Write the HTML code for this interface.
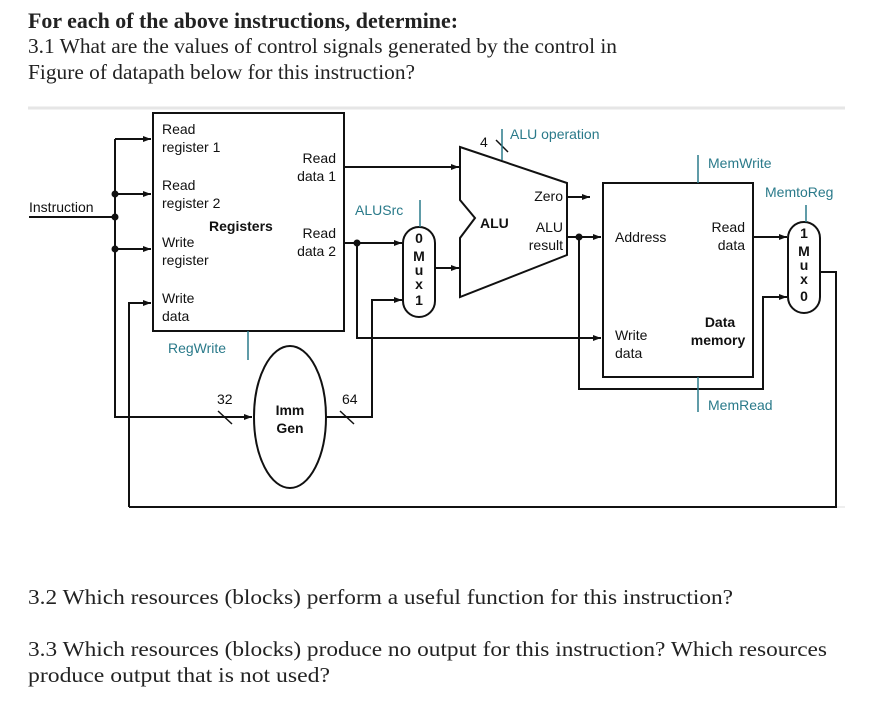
<!DOCTYPE html>
<html><head><meta charset="utf-8"><style>
body{margin:0;background:#fff;}
svg{display:block;}
.s{font-family:"Liberation Serif",serif;fill:#222;}
.d{font-family:"Liberation Sans",sans-serif;font-size:14px;fill:#111;}
.c{font-family:"Liberation Sans",sans-serif;font-size:14px;fill:#2a7a8a;}
</style></head><body>
<svg width="884" height="714" viewBox="0 0 884 714" xmlns="http://www.w3.org/2000/svg">
<defs><marker id="a" markerWidth="8" markerHeight="6" refX="8" refY="3" orient="auto" markerUnits="userSpaceOnUse"><path d="M0,0 L8,3 L0,6 z" fill="#111"/></marker></defs>
<text class="s" x="28" y="28" font-size="22" font-weight="bold" textLength="430" lengthAdjust="spacingAndGlyphs">For each of the above instructions, determine:</text>
<text class="s" x="28" y="53" font-size="21" textLength="589" lengthAdjust="spacingAndGlyphs">3.1 What are the values of control signals generated by the control in</text>
<text class="s" x="28" y="79" font-size="21" textLength="387" lengthAdjust="spacingAndGlyphs">Figure of datapath below for this instruction?</text>
<line x1="28" y1="108" x2="845" y2="108" stroke="#e6e6e6" stroke-width="3"/>
<line x1="130" y1="507" x2="845" y2="507" stroke="#eee" stroke-width="2"/>
<g stroke="#111" stroke-width="2" fill="none">
<rect x="153" y="113" width="191" height="218" fill="#fff"/>
<rect x="603" y="183" width="150" height="194" fill="#fff"/>
<line x1="29" y1="217" x2="115" y2="217"/>
<line x1="115" y1="139" x2="115" y2="418"/>
<line x1="115" y1="139" x2="151" y2="139" marker-end="url(#a)"/>
<line x1="115" y1="194" x2="151" y2="194" marker-end="url(#a)"/>
<line x1="115" y1="249" x2="151" y2="249" marker-end="url(#a)"/>
<line x1="115" y1="417" x2="252" y2="417" marker-end="url(#a)"/>
<polyline points="129,507 129,303 151,303" marker-end="url(#a)"/>
<line x1="344" y1="167" x2="459" y2="167" marker-end="url(#a)"/>
<line x1="344" y1="243" x2="402" y2="243" marker-end="url(#a)"/>
<polyline points="357,243 357,338 601,338" marker-end="url(#a)"/>
<line x1="435" y1="268" x2="459" y2="268" marker-end="url(#a)"/>
<polyline points="326,417 372,417 372,300 402,300" marker-end="url(#a)"/>
<path d="M460,147 L567,183 L567,255 L460,297 L460,238 L475,218 L460,200 Z" fill="#fff"/>
<line x1="567" y1="197" x2="590" y2="197" marker-end="url(#a)"/>
<line x1="567" y1="237" x2="601" y2="237" marker-end="url(#a)"/>
<polyline points="579,237 579,389 763,389 763,297 787,297" marker-end="url(#a)"/>
<line x1="753" y1="237" x2="787" y2="237" marker-end="url(#a)"/>
<polyline points="820,272 836,272 836,507 129,507"/>
<rect x="403" y="227" width="32" height="90" rx="16" fill="#fff"/>
<rect x="788" y="222" width="32" height="91" rx="16" fill="#fff"/>
<ellipse cx="290" cy="417" rx="36" ry="71" fill="#fff"/>
<line x1="218" y1="411" x2="232" y2="424" stroke-width="1.5"/>
<line x1="340" y1="411" x2="354" y2="424" stroke-width="1.5"/>
<line x1="496" y1="140" x2="508" y2="152" stroke-width="1.5"/>
</g>
<g fill="#111"><circle cx="115" cy="194" r="3.5"/><circle cx="115" cy="217" r="3.5"/><circle cx="115" cy="249" r="3.5"/><circle cx="357" cy="243" r="3.5"/><circle cx="579" cy="237" r="3.5"/></g>
<g stroke="#2a7a8a" stroke-width="1.5">
<line x1="248" y1="331" x2="248" y2="360"/>
<line x1="420" y1="200" x2="420" y2="227"/>
<line x1="502" y1="129" x2="502" y2="160"/>
<line x1="698" y1="155" x2="698" y2="183"/>
<line x1="698" y1="377" x2="698" y2="412"/>
<line x1="806" y1="205" x2="806" y2="222"/>
</g>
<text class="d" x="29" y="212">Instruction</text>
<text class="d" x="162" y="134">Read</text><text class="d" x="162" y="152">register 1</text>
<text class="d" x="162" y="190">Read</text><text class="d" x="162" y="208">register 2</text>
<text class="d" x="162" y="247">Write</text><text class="d" x="162" y="265">register</text>
<text class="d" x="162" y="303">Write</text><text class="d" x="162" y="321">data</text>
<text class="d" x="336" y="163" text-anchor="end">Read</text><text class="d" x="336" y="181" text-anchor="end">data 1</text>
<text class="d" x="336" y="238" text-anchor="end">Read</text><text class="d" x="336" y="256" text-anchor="end">data 2</text>
<text class="d" x="209" y="231" font-weight="bold">Registers</text>
<text class="c" x="168" y="353">RegWrite</text>
<text class="c" x="355" y="215">ALUSrc</text>
<text class="d" x="217" y="404">32</text><text class="d" x="342" y="404">64</text>
<text class="d" x="290" y="415" text-anchor="middle" font-weight="bold">Imm</text>
<text class="d" x="290" y="433" text-anchor="middle" font-weight="bold">Gen</text>
<g class="d" font-weight="bold" font-size="12" text-anchor="middle"><text x="419" y="243">0</text><text x="419" y="261">M</text><text x="419" y="275">u</text><text x="419" y="289">x</text><text x="419" y="305">1</text>
<text x="804" y="238">1</text><text x="804" y="256">M</text><text x="804" y="270">u</text><text x="804" y="284">x</text><text x="804" y="301">0</text></g>
<text class="d" x="480" y="147">4</text>
<text class="c" x="510" y="139">ALU operation</text>
<text class="d" x="563" y="201" text-anchor="end">Zero</text>
<text class="d" x="480" y="228" font-weight="bold">ALU</text>
<text class="d" x="563" y="232" text-anchor="end">ALU</text><text class="d" x="563" y="250" text-anchor="end">result</text>
<text class="c" x="708" y="168">MemWrite</text>
<text class="c" x="765" y="197">MemtoReg</text>
<text class="d" x="615" y="242">Address</text>
<text class="d" x="745" y="232" text-anchor="end">Read</text><text class="d" x="745" y="250" text-anchor="end">data</text>
<text class="d" x="615" y="340">Write</text><text class="d" x="615" y="358">data</text>
<text class="d" x="720" y="327" text-anchor="middle" font-weight="bold">Data</text><text class="d" x="718" y="345" text-anchor="middle" font-weight="bold">memory</text>
<text class="c" x="708" y="410">MemRead</text>
<text class="s" x="28" y="604" font-size="21" textLength="705" lengthAdjust="spacingAndGlyphs">3.2 Which resources (blocks) perform a useful function for this instruction?</text>
<text class="s" x="28" y="656" font-size="21" textLength="799" lengthAdjust="spacingAndGlyphs">3.3 Which resources (blocks) produce no output for this instruction? Which resources</text>
<text class="s" x="28" y="682" font-size="21" textLength="302" lengthAdjust="spacingAndGlyphs">produce output that is not used?</text>
</svg>
</body></html>
